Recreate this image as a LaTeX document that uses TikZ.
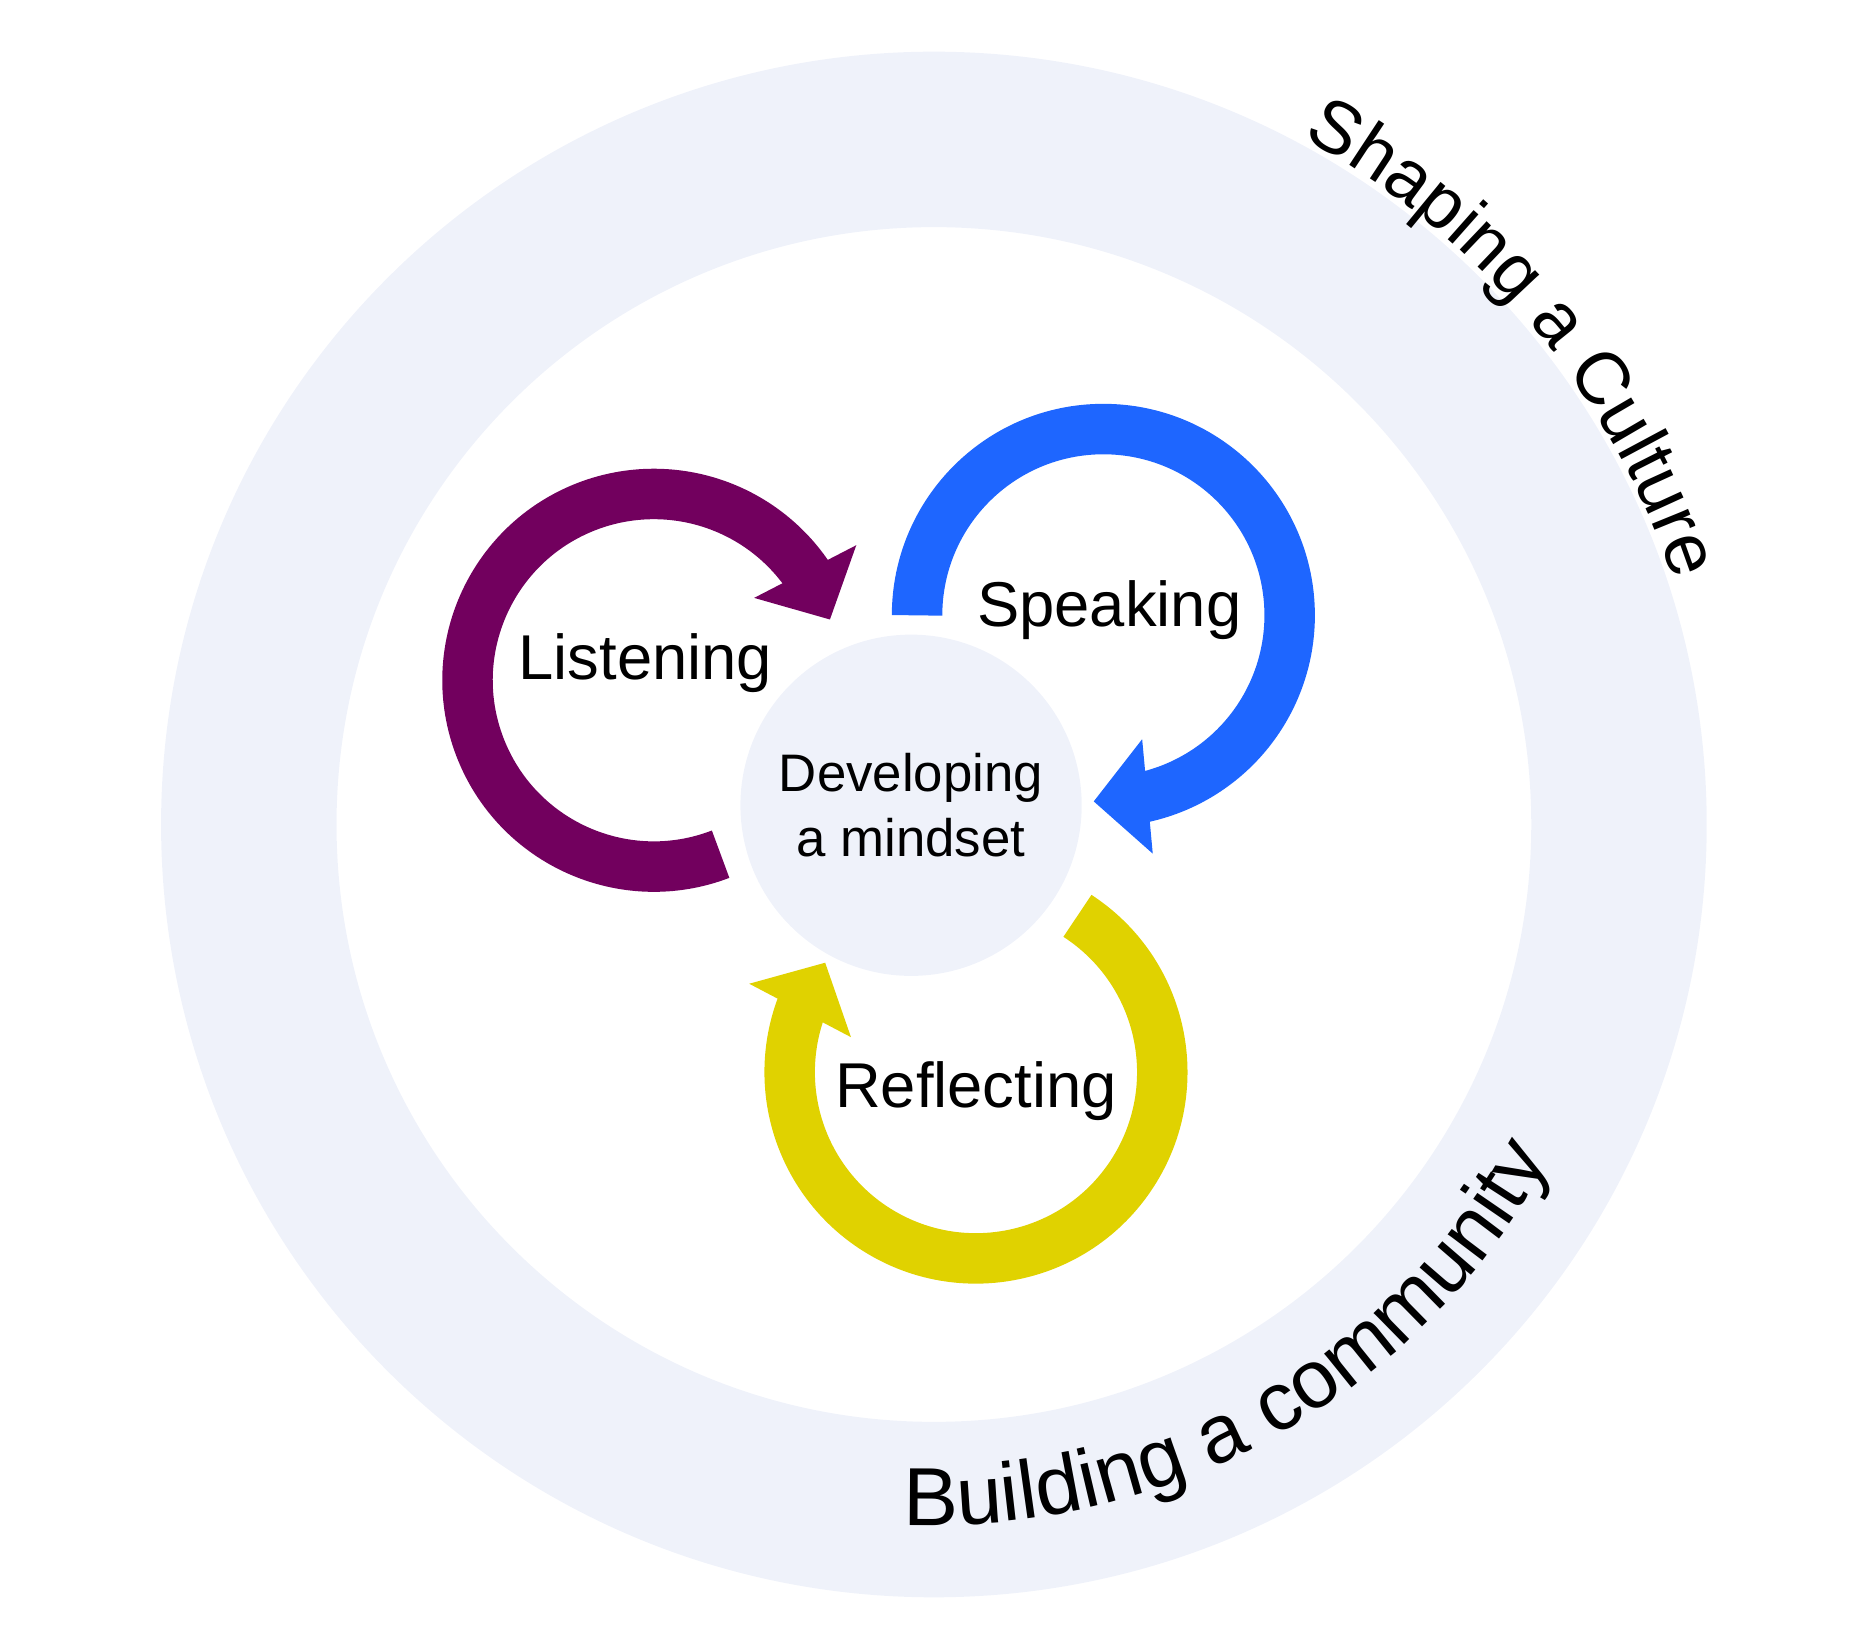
\documentclass[tikz,border=0pt]{standalone}
\usepackage{fontspec}
\setmainfont{Liberation Sans}
\usetikzlibrary{arrows.meta,bending,decorations.text}
\definecolor{ringgray}{HTML}{EFF2FA}
\definecolor{loopplum}{HTML}{72005E}
\definecolor{loopblue}{HTML}{1E66FF}
\definecolor{loopyellow}{HTML}{E0D200}

\begin{document}
\begin{tikzpicture}[x=0.02cm,y=0.02cm,
	loop/.style={line width=0.84cm, -{Triangle[length=0.9cm,width=1.86cm]}},
	label/.style={font=\fontsize{30}{36}\selectfont}]
					\useasboundingbox (0,0) rectangle (1560,1364);
					% outer ring
					\coordinate (O) at (777,678);
					\draw[ringgray, line width=2.92cm] (O) circle[radius=570];
					\node[circle, fill=ringgray, minimum size=5.68cm, align=center, font=\fontsize{25}{31}\selectfont] (M) at (758,694) {Developing\\a mindset};
					
					% loops
					\coordinate (L) at (544,798);
					\coordinate (S) at (918,852);
					\coordinate (R) at (812,472);
					\draw[loop, loopplum] (L) ++(-69:155) arc[start angle=-69, end angle=-341, radius=155];
					\draw[loop, loopblue] (S) ++(180:155) arc[start angle=180, end angle=-93, radius=155];
					\draw[loop, loopyellow] (R) ++(57:155) arc[start angle=57, end angle=-216, radius=155];
					\node[label] (Lt) at (537,812) {Listening};
					\node[label] (St) at (923,856) {Speaking};
					\node[label] (Rt) at (812,456) {Reflecting};
					
					% ring texts
					\path[decorate, decoration={text along path, text align=center,
						text={|\fontsize{35}{40}\selectfont|Shaping a Culture}}]
						(O) ++(64:648) arc[start angle=64, end angle=16, radius=648];
					\path[decorate, decoration={text along path, text align=center,
						text={|\fontsize{39}{44}\selectfont|Building a community}}]
						(O) ++(-97:583) arc[start angle=-97, end angle=-24, radius=583];
			\end{tikzpicture}
\end{document}
